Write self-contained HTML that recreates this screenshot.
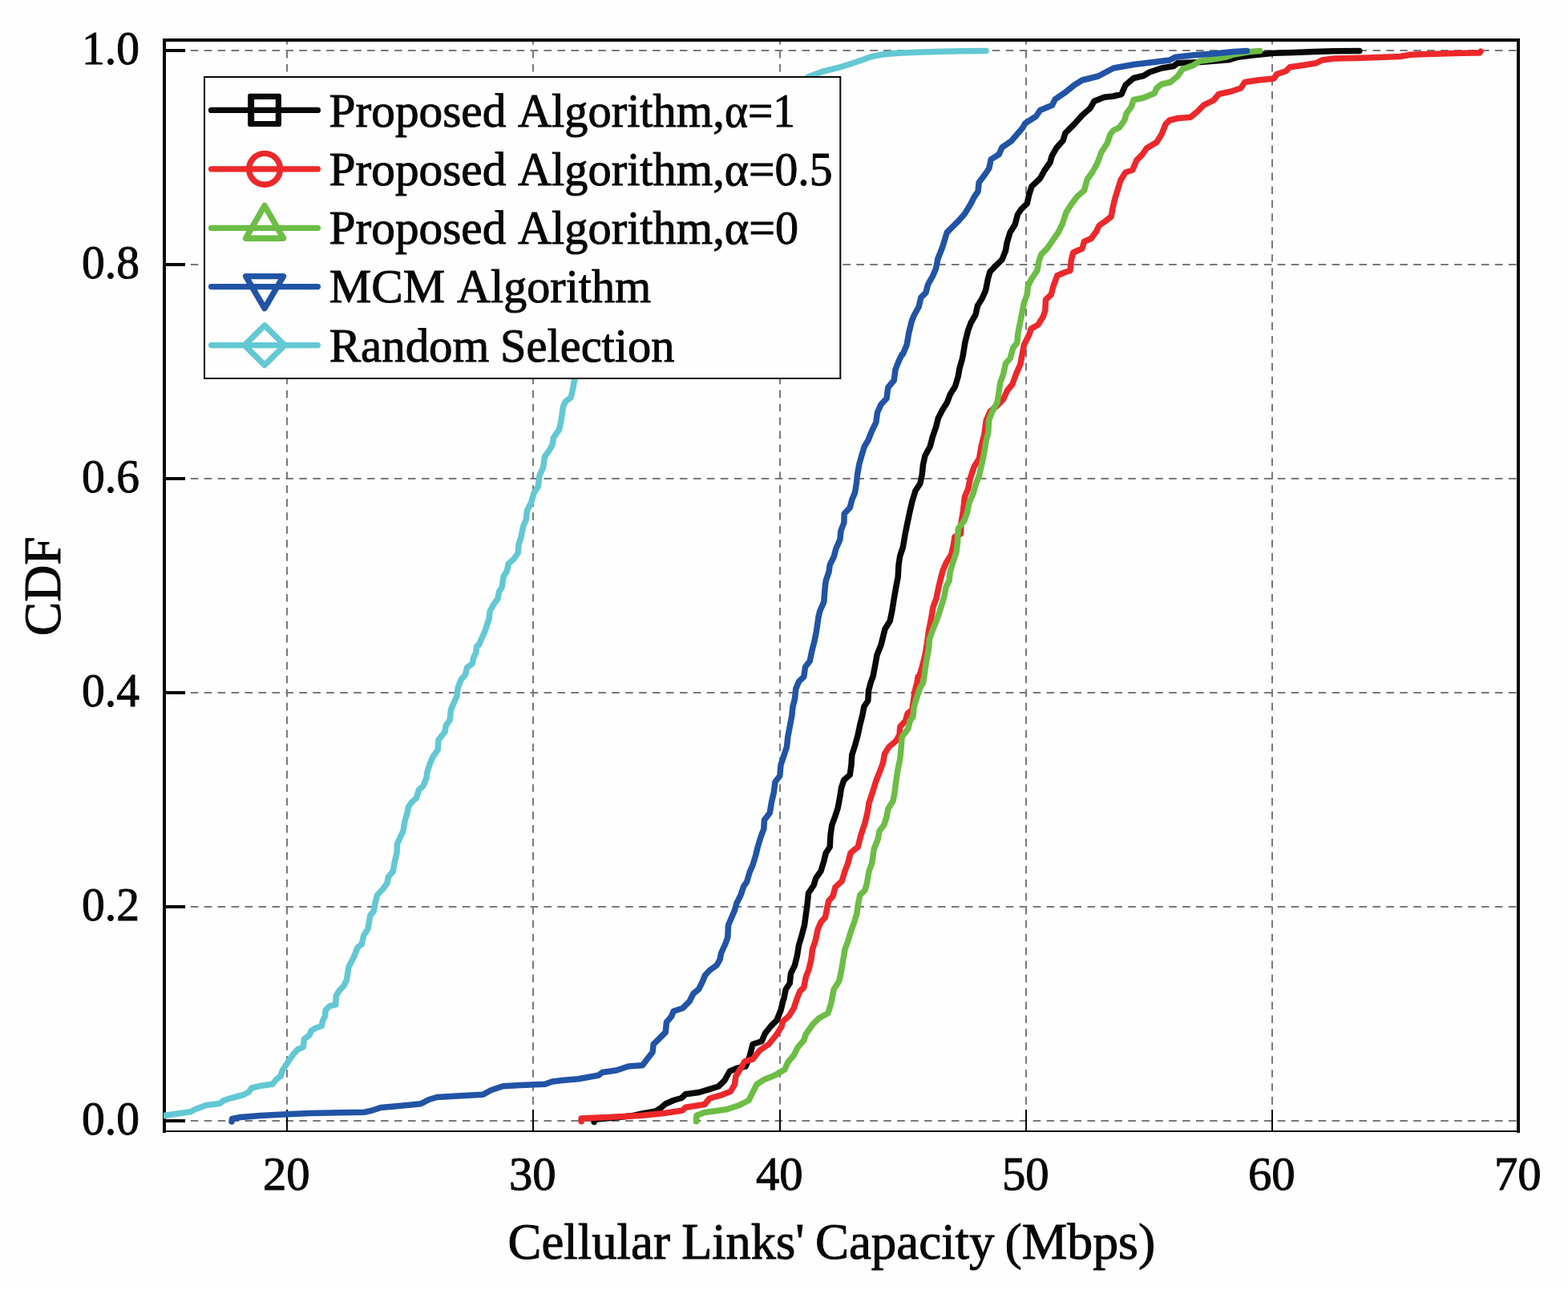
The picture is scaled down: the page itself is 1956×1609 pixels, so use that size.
<!DOCTYPE html>
<html lang="en"><head><meta charset="utf-8"><title>CDF of Cellular Links' Capacity</title>
<style>html,body{margin:0;padding:0;background:#fefefe;overflow:hidden}svg{display:block}text{font-family:"Liberation Serif",serif;fill:#080806;stroke:#080806;stroke-width:1px;stroke-linejoin:round}</style>
</head><body>
<svg width="1956" height="1609" viewBox="0 0 1956 1609">
<rect x="0" y="0" width="1956" height="1609" fill="#fefefe"/>
<defs><clipPath id="plot"><rect x="204" y="50" width="1690" height="1361"/></clipPath></defs>
<g stroke="#77797e" stroke-width="2" fill="none" stroke-dasharray="9.6 7.35">
<path d="M203.85 63 H1892"/>
<path d="M203.85 330 H1892"/>
<path d="M203.85 597 H1892"/>
<path d="M203.85 864 H1892"/>
<path d="M203.85 1131 H1892"/>
<path d="M203.85 1398 H1892"/>
<path d="M358 1411.6 V52"/>
<path d="M665 1411.6 V52"/>
<path d="M973 1411.6 V52"/>
<path d="M1280 1411.6 V52"/>
<path d="M1587 1411.6 V52"/>
</g>
<g stroke="#080806" fill="none">
<path d="M205 1413 V50 H1894 V1413" stroke-width="4" stroke-linejoin="miter"/>
<path d="M203 1411 H1896" stroke-width="2"/>
<path d="M205 63 H231" stroke-width="4"/>
<path d="M205 330 H231" stroke-width="4"/>
<path d="M205 597 H231" stroke-width="4"/>
<path d="M205 864 H231" stroke-width="4"/>
<path d="M205 1131 H231" stroke-width="4"/>
<path d="M205 1398 H231" stroke-width="4"/>
<path d="M358 1384 V1411" stroke-width="2"/>
<path d="M665 1384 V1411" stroke-width="2"/>
<path d="M973 1384 V1411" stroke-width="2"/>
<path d="M1280 1384 V1411" stroke-width="2"/>
<path d="M1587 1384 V1411" stroke-width="2"/>
</g>
<g fill="none" stroke-width="7.5" stroke-linejoin="round" stroke-linecap="round" clip-path="url(#plot)">
<path id="c-black" stroke="#080806" d="M741.2 1399.5 L742.2 1396.2 L767.5 1394.0 L787.8 1391.8 L801.2 1389.0 L818.0 1386.0 L824.0 1382.2 L830.0 1377.0 L840.0 1372.5 L850.2 1369.5 L855.2 1364.8 L872.0 1362.5 L884.0 1358.8 L896.5 1355.0 L904.0 1347.5 L910.2 1336.2 L919.0 1332.5 L930.2 1330.0 L935.2 1317.5 L939.0 1302.5 L950.2 1298.8 L954.5 1288.8 L961.5 1280.0 L969.0 1272.5 L974.0 1260.0 L977.0 1247.5 L977.8 1246.0 L980.2 1234.0 L985.2 1226.5 L986.5 1214.0 L991.5 1204.0 L994.5 1191.5 L996.5 1179.0 L1000.2 1166.5 L1003.5 1154.0 L1005.2 1141.5 L1007.0 1129.0 L1008.5 1114.0 L1015.2 1104.0 L1017.8 1095.2 L1024.0 1086.5 L1027.8 1074.0 L1030.2 1064.0 L1035.2 1056.5 L1036.0 1041.5 L1037.8 1029.0 L1041.5 1019.0 L1045.2 1007.8 L1047.8 994.0 L1049.5 982.8 L1052.8 972.8 L1060.2 966.5 L1062.0 954.0 L1062.8 941.5 L1066.5 930.2 L1070.2 916.5 L1072.8 904.0 L1076.0 891.5 L1077.8 881.5 L1082.8 874.0 L1083.5 861.5 L1086.5 850.2 L1089.0 844.0 L1092.0 828.2 L1094.0 817.0 L1099.0 804.5 L1101.5 794.5 L1104.0 784.5 L1110.2 774.5 L1112.8 762.0 L1115.2 747.0 L1117.8 732.0 L1120.2 719.5 L1121.0 704.5 L1122.8 693.2 L1126.5 682.0 L1129.0 667.0 L1131.5 654.5 L1135.2 637.0 L1137.8 625.8 L1142.0 612.0 L1147.8 603.2 L1150.2 592.0 L1151.5 579.5 L1154.0 568.2 L1160.2 557.0 L1163.5 544.5 L1167.8 532.0 L1170.2 522.0 L1175.2 512.0 L1181.5 502.0 L1185.2 492.0 L1191.5 482.0 L1195.2 469.5 L1197.0 459.5 L1200.2 448.2 L1201.5 442.0 L1203.8 427.5 L1207.5 412.5 L1211.2 402.5 L1217.0 392.5 L1219.5 381.2 L1225.0 372.5 L1229.5 362.5 L1232.5 347.5 L1235.0 338.8 L1242.5 331.2 L1250.0 323.8 L1254.5 312.5 L1256.2 302.5 L1260.0 290.0 L1266.2 280.0 L1269.5 267.5 L1273.8 261.2 L1281.2 253.8 L1283.8 242.5 L1287.0 232.5 L1297.5 222.5 L1303.0 212.5 L1310.0 202.5 L1312.0 195.0 L1317.5 185.0 L1326.2 175.0 L1328.8 166.2 L1340.0 155.0 L1350.0 143.8 L1360.0 135.0 L1365.0 126.2 L1377.5 121.2 L1389.0 120.0 L1399.0 117.5 L1404.0 106.2 L1414.0 97.5 L1426.5 94.5 L1434.0 90.0 L1449.0 85.0 L1464.0 82.5 L1469.0 78.8 L1496.5 77.5 L1534.0 74.5 L1544.0 71.2 L1564.0 68.8 L1589.0 66.2 L1614.0 65.5 L1639.0 64.5 L1664.0 63.8 L1695.8 63.5"/>
<path id="c-red" stroke="#ed282a" d="M725.2 1398.8 L725.2 1395.0 L751.5 1393.8 L779.0 1392.5 L801.5 1391.2 L826.5 1388.8 L851.5 1385.0 L855.2 1381.2 L879.0 1377.5 L885.2 1370.0 L899.0 1366.2 L911.5 1361.2 L916.5 1352.5 L917.8 1342.5 L924.0 1332.5 L929.0 1323.8 L939.0 1321.2 L947.8 1310.0 L959.0 1302.5 L969.0 1290.0 L975.2 1280.0 L976.5 1273.8 L984.0 1267.5 L990.2 1257.5 L994.0 1246.2 L997.8 1236.5 L1002.8 1231.5 L1005.2 1219.0 L1009.0 1209.0 L1012.0 1196.5 L1013.5 1184.0 L1017.0 1174.0 L1020.2 1159.0 L1024.0 1150.2 L1029.5 1144.0 L1032.0 1131.5 L1033.5 1124.0 L1039.0 1117.8 L1042.0 1106.5 L1050.2 1099.0 L1054.0 1086.5 L1057.8 1076.5 L1061.0 1064.0 L1065.2 1060.2 L1070.2 1056.5 L1074.0 1041.5 L1079.0 1026.5 L1082.0 1014.0 L1084.0 1001.5 L1089.0 986.5 L1092.8 974.0 L1097.8 961.5 L1101.5 951.5 L1103.5 940.2 L1109.0 931.5 L1117.8 924.0 L1122.0 916.5 L1122.8 906.5 L1129.5 899.0 L1132.0 890.2 L1137.8 885.2 L1139.5 874.0 L1141.0 862.8 L1144.0 851.5 L1145.2 844.0 L1146.5 844.0 L1150.2 832.0 L1154.0 817.0 L1156.5 802.0 L1158.5 787.0 L1161.5 772.0 L1164.0 757.0 L1167.8 747.0 L1171.5 729.5 L1176.0 712.0 L1180.2 702.0 L1186.5 692.0 L1189.0 682.0 L1191.0 669.5 L1198.5 665.8 L1199.0 652.0 L1201.5 637.0 L1203.5 619.5 L1207.8 609.5 L1210.2 597.0 L1215.2 582.0 L1221.5 572.0 L1224.0 557.0 L1227.8 542.0 L1230.2 524.5 L1235.2 513.2 L1244.0 505.8 L1251.5 498.2 L1256.5 487.0 L1262.8 479.5 L1267.8 465.8 L1272.8 454.5 L1275.2 442.0 L1277.5 430.0 L1283.8 417.5 L1286.2 410.0 L1295.0 405.0 L1301.2 395.0 L1303.8 387.5 L1304.5 373.8 L1311.2 367.5 L1313.8 357.5 L1318.8 343.8 L1327.5 340.0 L1335.0 337.5 L1336.2 325.0 L1338.8 315.0 L1350.0 310.0 L1352.5 301.2 L1361.2 297.5 L1367.5 288.8 L1371.2 281.2 L1380.0 275.0 L1386.2 270.0 L1388.0 260.0 L1390.2 250.0 L1394.0 237.5 L1397.8 225.0 L1404.0 215.0 L1412.8 212.0 L1417.8 200.0 L1425.2 192.5 L1430.2 185.0 L1442.8 177.5 L1449.0 167.5 L1454.0 155.0 L1459.0 150.0 L1469.0 147.5 L1485.2 146.2 L1494.0 138.8 L1501.5 131.2 L1514.0 125.0 L1520.2 117.5 L1536.5 113.8 L1547.8 110.0 L1552.8 102.5 L1569.0 100.0 L1589.0 98.0 L1592.8 92.5 L1604.0 88.8 L1609.0 83.8 L1626.5 81.2 L1641.5 78.8 L1649.0 75.0 L1664.0 73.0 L1689.0 72.5 L1714.0 71.8 L1746.5 70.5 L1759.0 68.2 L1789.0 67.2 L1814.0 66.5 L1839.0 66.1 L1845.5 66.0 L1847.0 64.2"/>
<path id="c-green" stroke="#6cbd45" d="M868.5 1398.8 L869.0 1391.2 L879.0 1387.5 L906.5 1383.8 L921.5 1378.8 L934.0 1372.5 L939.0 1362.5 L944.0 1352.5 L954.0 1346.2 L966.5 1341.2 L979.0 1333.8 L982.8 1325.0 L990.2 1316.2 L995.2 1306.2 L1002.8 1297.5 L1005.2 1290.0 L1014.0 1277.5 L1021.5 1270.0 L1032.8 1263.8 L1036.5 1252.5 L1037.8 1246.2 L1040.2 1234.0 L1046.5 1224.0 L1049.0 1214.0 L1051.5 1199.0 L1054.0 1184.0 L1057.8 1174.0 L1061.5 1161.5 L1065.2 1151.5 L1069.0 1139.0 L1070.2 1129.0 L1072.8 1116.5 L1079.0 1110.2 L1081.5 1101.5 L1084.0 1086.5 L1087.8 1076.5 L1090.2 1059.0 L1095.2 1046.5 L1097.0 1036.5 L1102.8 1029.0 L1106.0 1019.0 L1107.8 1009.0 L1114.0 999.0 L1116.0 989.0 L1117.8 974.0 L1120.2 959.0 L1122.8 946.5 L1124.0 934.0 L1125.2 919.0 L1132.8 909.0 L1135.2 899.0 L1139.0 894.0 L1140.2 881.5 L1144.0 869.0 L1147.8 857.8 L1151.5 851.5 L1152.8 844.0 L1155.2 827.0 L1158.5 809.5 L1159.5 797.0 L1164.0 784.5 L1169.0 772.0 L1174.0 757.0 L1177.8 744.5 L1180.2 732.0 L1184.0 724.5 L1185.2 713.2 L1190.2 697.0 L1192.8 689.5 L1194.5 677.0 L1195.2 659.5 L1202.8 649.5 L1206.5 639.5 L1209.0 627.0 L1214.0 615.8 L1217.0 604.5 L1221.5 593.2 L1225.2 577.0 L1227.8 564.5 L1230.2 549.5 L1232.8 539.5 L1233.5 524.5 L1237.8 513.2 L1244.0 502.0 L1246.0 489.5 L1247.8 477.0 L1251.5 467.0 L1254.5 453.2 L1260.2 447.0 L1261.5 442.0 L1263.8 433.8 L1268.8 427.5 L1270.0 415.0 L1272.5 402.5 L1275.0 390.0 L1277.5 377.5 L1281.2 367.5 L1282.5 356.2 L1287.0 347.5 L1293.8 337.5 L1296.2 325.0 L1298.8 317.5 L1306.2 310.0 L1313.8 298.8 L1320.0 290.0 L1325.0 280.0 L1330.0 265.0 L1336.2 255.0 L1343.8 245.0 L1352.5 237.5 L1356.2 223.8 L1362.5 215.0 L1368.8 203.8 L1373.8 190.0 L1381.2 178.8 L1385.0 167.5 L1389.0 162.5 L1396.5 158.8 L1402.8 150.0 L1405.2 141.2 L1411.0 133.8 L1414.0 124.5 L1426.5 122.0 L1440.2 116.2 L1442.8 110.0 L1449.0 105.0 L1460.2 102.5 L1469.0 95.0 L1475.2 86.2 L1489.0 81.2 L1496.5 76.2 L1514.0 73.8 L1529.0 71.2 L1539.0 68.0 L1559.0 64.5 L1571.5 63.5"/>
<path id="c-blue" stroke="#2154a5" d="M289.0 1399.0 L289.5 1395.5 L300.0 1393.5 L325.0 1391.5 L358.0 1389.8 L387.5 1388.5 L425.0 1387.8 L455.0 1387.2 L465.0 1384.8 L475.0 1381.5 L500.0 1379.2 L525.0 1376.8 L535.0 1371.5 L545.0 1368.5 L575.0 1366.8 L602.5 1365.2 L612.5 1359.8 L627.5 1354.8 L650.0 1353.5 L680.0 1352.2 L689.0 1349.0 L701.5 1347.5 L721.5 1345.8 L746.5 1341.2 L751.5 1337.5 L769.0 1335.0 L784.0 1330.0 L801.5 1328.8 L809.0 1318.8 L814.0 1312.5 L815.2 1302.5 L822.8 1295.0 L830.2 1287.5 L831.5 1275.0 L837.8 1267.5 L840.2 1261.2 L851.5 1257.5 L860.2 1248.8 L861.5 1246.0 L865.2 1239.0 L871.5 1234.0 L876.5 1224.0 L879.5 1216.5 L885.2 1210.2 L894.0 1204.0 L898.2 1196.5 L899.5 1189.0 L905.2 1176.5 L907.8 1169.0 L908.5 1154.0 L912.8 1144.0 L916.5 1135.2 L919.0 1126.5 L924.0 1116.5 L927.8 1105.2 L931.5 1100.2 L935.2 1087.8 L939.0 1079.0 L942.8 1066.5 L945.2 1056.5 L949.0 1044.0 L952.8 1034.0 L953.5 1022.8 L960.2 1014.0 L962.8 999.0 L965.2 989.0 L967.0 975.2 L972.8 967.8 L974.0 954.0 L978.2 941.5 L981.5 931.5 L982.8 919.0 L985.2 906.5 L987.8 892.8 L989.0 881.5 L991.5 871.5 L992.8 859.0 L996.5 850.2 L1002.8 844.0 L1004.5 832.0 L1010.2 824.5 L1012.8 812.0 L1016.0 799.5 L1018.5 787.0 L1021.0 769.5 L1022.8 762.0 L1027.8 750.8 L1029.0 734.5 L1030.2 724.5 L1034.0 713.2 L1035.2 704.5 L1040.2 694.5 L1042.8 684.5 L1047.8 673.2 L1049.0 662.0 L1052.8 652.0 L1053.2 640.8 L1060.2 633.2 L1062.8 623.2 L1066.5 614.5 L1068.5 602.0 L1069.5 592.0 L1072.0 578.2 L1075.2 567.0 L1078.2 557.0 L1082.8 549.5 L1087.8 537.0 L1092.8 527.0 L1094.5 514.5 L1099.0 504.5 L1106.0 497.0 L1107.8 483.2 L1115.2 474.5 L1117.0 460.8 L1121.5 449.5 L1125.2 442.0 L1126.2 442.0 L1131.2 430.0 L1133.8 415.0 L1137.5 400.0 L1140.0 393.8 L1146.2 382.5 L1148.8 371.2 L1155.0 365.0 L1157.5 355.0 L1163.8 343.8 L1167.5 335.0 L1170.0 322.5 L1175.0 310.0 L1177.5 302.5 L1181.2 290.0 L1190.0 281.2 L1196.2 275.0 L1203.8 266.2 L1211.2 253.8 L1215.0 246.2 L1220.0 238.8 L1221.2 227.5 L1228.8 217.5 L1233.8 210.0 L1236.2 198.8 L1246.2 192.5 L1250.0 183.8 L1261.2 176.2 L1268.8 167.5 L1276.2 158.8 L1278.8 153.8 L1292.5 145.0 L1297.5 137.5 L1312.5 131.2 L1316.2 123.8 L1327.5 116.2 L1340.0 106.2 L1350.0 100.0 L1370.0 95.0 L1389.0 85.0 L1414.0 80.5 L1439.0 77.5 L1459.0 75.0 L1466.5 71.2 L1489.0 68.8 L1514.0 67.0 L1539.0 64.5 L1555.5 63.5"/>
<path id="c-cyan" stroke="#62c8d3" d="M198.0 1392.5 L220.0 1389.2 L237.5 1386.8 L243.8 1383.5 L257.5 1378.5 L273.8 1376.5 L280.0 1372.2 L287.5 1369.8 L303.8 1365.5 L310.0 1362.2 L313.8 1357.2 L322.5 1354.8 L340.0 1352.2 L345.0 1346.0 L350.0 1342.2 L352.5 1334.8 L360.0 1323.5 L365.0 1316.0 L371.2 1309.0 L378.2 1306.0 L379.5 1296.0 L386.2 1291.0 L388.0 1286.0 L393.8 1282.2 L401.2 1279.8 L402.5 1273.5 L405.5 1267.2 L406.2 1259.8 L411.2 1254.8 L418.8 1253.0 L419.2 1242.2 L423.8 1234.8 L428.8 1229.8 L432.5 1222.2 L434.2 1211.0 L435.0 1206.0 L441.2 1194.0 L446.2 1181.5 L451.2 1177.8 L453.8 1166.5 L458.8 1159.0 L462.0 1141.5 L466.2 1136.5 L468.0 1126.5 L470.5 1116.5 L477.5 1109.0 L483.0 1101.5 L484.2 1094.0 L490.5 1086.5 L492.0 1076.5 L495.0 1064.0 L495.5 1052.8 L500.0 1042.8 L503.0 1036.5 L505.0 1024.0 L508.0 1014.0 L509.5 1006.5 L513.8 1000.2 L519.5 995.2 L522.5 985.2 L528.0 980.2 L532.0 970.2 L533.0 962.8 L536.2 952.8 L540.0 944.0 L546.2 935.2 L547.0 922.8 L555.0 912.8 L556.2 905.2 L561.2 897.8 L562.5 885.2 L566.2 876.5 L570.0 867.8 L571.2 857.8 L575.0 847.8 L580.5 841.5 L582.5 832.8 L589.2 827.8 L590.8 820.2 L593.8 814.0 L594.5 806.5 L597.5 804.0 L605.0 787.0 L610.0 772.0 L611.2 762.0 L616.2 753.2 L620.8 747.0 L622.5 738.2 L626.2 732.0 L628.0 719.5 L632.5 712.0 L634.2 703.2 L641.2 697.0 L646.2 689.5 L647.0 679.5 L650.0 669.5 L652.5 657.0 L656.2 648.2 L657.5 637.0 L662.5 627.0 L666.2 614.5 L671.2 607.0 L673.0 593.2 L677.5 583.2 L679.5 569.5 L685.0 562.0 L689.2 554.5 L690.5 545.8 L697.5 535.8 L700.0 524.5 L702.5 507.0 L705.5 500.8 L712.0 495.8 L714.5 485.8 L716.2 475.8 L717.5 472.0 L1007.5 96.2 L1027.5 88.8 L1047.5 83.8 L1060.0 80.0 L1075.0 75.0 L1085.0 71.2 L1100.0 68.0 L1120.0 66.2 L1150.0 65.0 L1175.0 64.2 L1200.0 63.8 L1230.0 63.5"/>
</g>
<rect x="255" y="96" width="793.3" height="376" fill="#fefefe" stroke="#080806" stroke-width="2"/>
<g fill="none" stroke="#080806" stroke-linejoin="round" stroke-linecap="round">
<path d="M263.5 137.4 H396.4" stroke-width="7.2"/>
<path d="M311.65 116.8 h36.8 a2.5 2.5 0 0 1 2.5 2.5 v36.2 a2.5 2.5 0 0 1 -2.5 2.5 h-36.8 a2.5 2.5 0 0 1 -2.5 -2.5 v-36.2 a2.5 2.5 0 0 1 2.5 -2.5 Z M317.15 123.9 v27 h26.6 v-27 Z" fill="#080806" fill-rule="evenodd" stroke="none"/>
</g>
<g fill="none" stroke="#ed282a" stroke-linejoin="round" stroke-linecap="round">
<path d="M263.5 210.8 H396.4" stroke-width="7.2"/>
<circle cx="330.05" cy="210.8" r="19.45" stroke-width="7.4"/>
</g>
<g fill="none" stroke="#6cbd45" stroke-linejoin="round" stroke-linecap="round">
<path d="M263.5 284.4 H396.4" stroke-width="7.2"/>
<path d="M330.05 256.5 L353.5 297.2 L306.6 297.2 Z" stroke-width="7.4"/>
</g>
<g fill="none" stroke="#2154a5" stroke-linejoin="round" stroke-linecap="round">
<path d="M263.5 357.6 H396.4" stroke-width="7.2"/>
<path d="M330.05 384.6 L353.5 344.6 L306.6 344.6 Z" stroke-width="7.4"/>
</g>
<g fill="none" stroke="#62c8d3" stroke-linejoin="round" stroke-linecap="round">
<path d="M263.5 430.6 H396.4" stroke-width="7.2"/>
<path d="M330.05 405.8 L355.05 430.6 L330.05 455.4 L305.05 430.6 Z" stroke-width="7.4"/>
</g>
<text id="lg0" y="158.2" font-size="60"><tspan x="410.52" textLength="220.80" lengthAdjust="spacingAndGlyphs">Proposed</tspan> <tspan x="645.92" textLength="257.88" lengthAdjust="spacingAndGlyphs">Algorithm,</tspan><tspan x="903.92" textLength="87.92" lengthAdjust="spacingAndGlyphs">α=1</tspan></text>
<text id="lg1" y="231" font-size="60"><tspan x="410.52" textLength="220.80" lengthAdjust="spacingAndGlyphs">Proposed</tspan> <tspan x="645.92" textLength="257.88" lengthAdjust="spacingAndGlyphs">Algorithm,</tspan><tspan x="903.84" textLength="134.69" lengthAdjust="spacingAndGlyphs">α=0.5</tspan></text>
<text id="lg2" y="304.4" font-size="60"><tspan x="410.52" textLength="220.80" lengthAdjust="spacingAndGlyphs">Proposed</tspan> <tspan x="645.92" textLength="257.88" lengthAdjust="spacingAndGlyphs">Algorithm,</tspan><tspan x="903.82" textLength="92.18" lengthAdjust="spacingAndGlyphs">α=0</tspan></text>
<text id="lg3" y="377.1" font-size="60"><tspan x="410.63" textLength="144.57" lengthAdjust="spacingAndGlyphs">MCM</tspan> <tspan x="570.02" textLength="242.30" lengthAdjust="spacingAndGlyphs">Algorithm</tspan></text>
<text id="lg4" y="450.9" font-size="60"><tspan x="410.73" textLength="199.72" lengthAdjust="spacingAndGlyphs">Random</tspan> <tspan x="624.06" textLength="217.45" lengthAdjust="spacingAndGlyphs">Selection</tspan></text>
<text id="yt10" x="102.04" y="80.4" font-size="58.2" textLength="71.91" lengthAdjust="spacingAndGlyphs">1.0</text>
<text id="yt08" x="102.04" y="347.4" font-size="58.2" textLength="71.91" lengthAdjust="spacingAndGlyphs">0.8</text>
<text id="yt06" x="102.04" y="614.4" font-size="58.2" textLength="71.91" lengthAdjust="spacingAndGlyphs">0.6</text>
<text id="yt04" x="102.04" y="881.4" font-size="58.2" textLength="71.91" lengthAdjust="spacingAndGlyphs">0.4</text>
<text id="yt02" x="102.04" y="1148.4" font-size="58.2" textLength="71.91" lengthAdjust="spacingAndGlyphs">0.2</text>
<text id="yt00" x="102.04" y="1415.4" font-size="58.2" textLength="71.91" lengthAdjust="spacingAndGlyphs">0.0</text>
<text id="xt20" x="357.3" y="1484.2" font-size="58.8" text-anchor="middle">20</text>
<text id="xt30" x="664.3" y="1484.2" font-size="58.8" text-anchor="middle">30</text>
<text id="xt40" x="972.3" y="1484.2" font-size="58.8" text-anchor="middle">40</text>
<text id="xt50" x="1279.3" y="1484.2" font-size="58.8" text-anchor="middle">50</text>
<text id="xt60" x="1586.3" y="1484.2" font-size="58.8" text-anchor="middle">60</text>
<text id="xt70" x="1893.3" y="1484.2" font-size="58.8" text-anchor="middle">70</text>
<text id="xlabel" y="1570.2" font-size="64.3"><tspan x="633.49" textLength="202.36" lengthAdjust="spacingAndGlyphs">Cellular</tspan> <tspan x="850.13" textLength="153.26" lengthAdjust="spacingAndGlyphs">Links&#39;</tspan> <tspan x="1016.98" textLength="223.59" lengthAdjust="spacingAndGlyphs">Capacity</tspan> <tspan x="1253.43" textLength="187.74" lengthAdjust="spacingAndGlyphs">(Mbps)</tspan></text>
<text id="ylabel" transform="translate(75.3 793.2) rotate(-90)" x="0" y="0" font-size="66.5" textLength="124" lengthAdjust="spacingAndGlyphs">CDF</text>
</svg></body></html>
